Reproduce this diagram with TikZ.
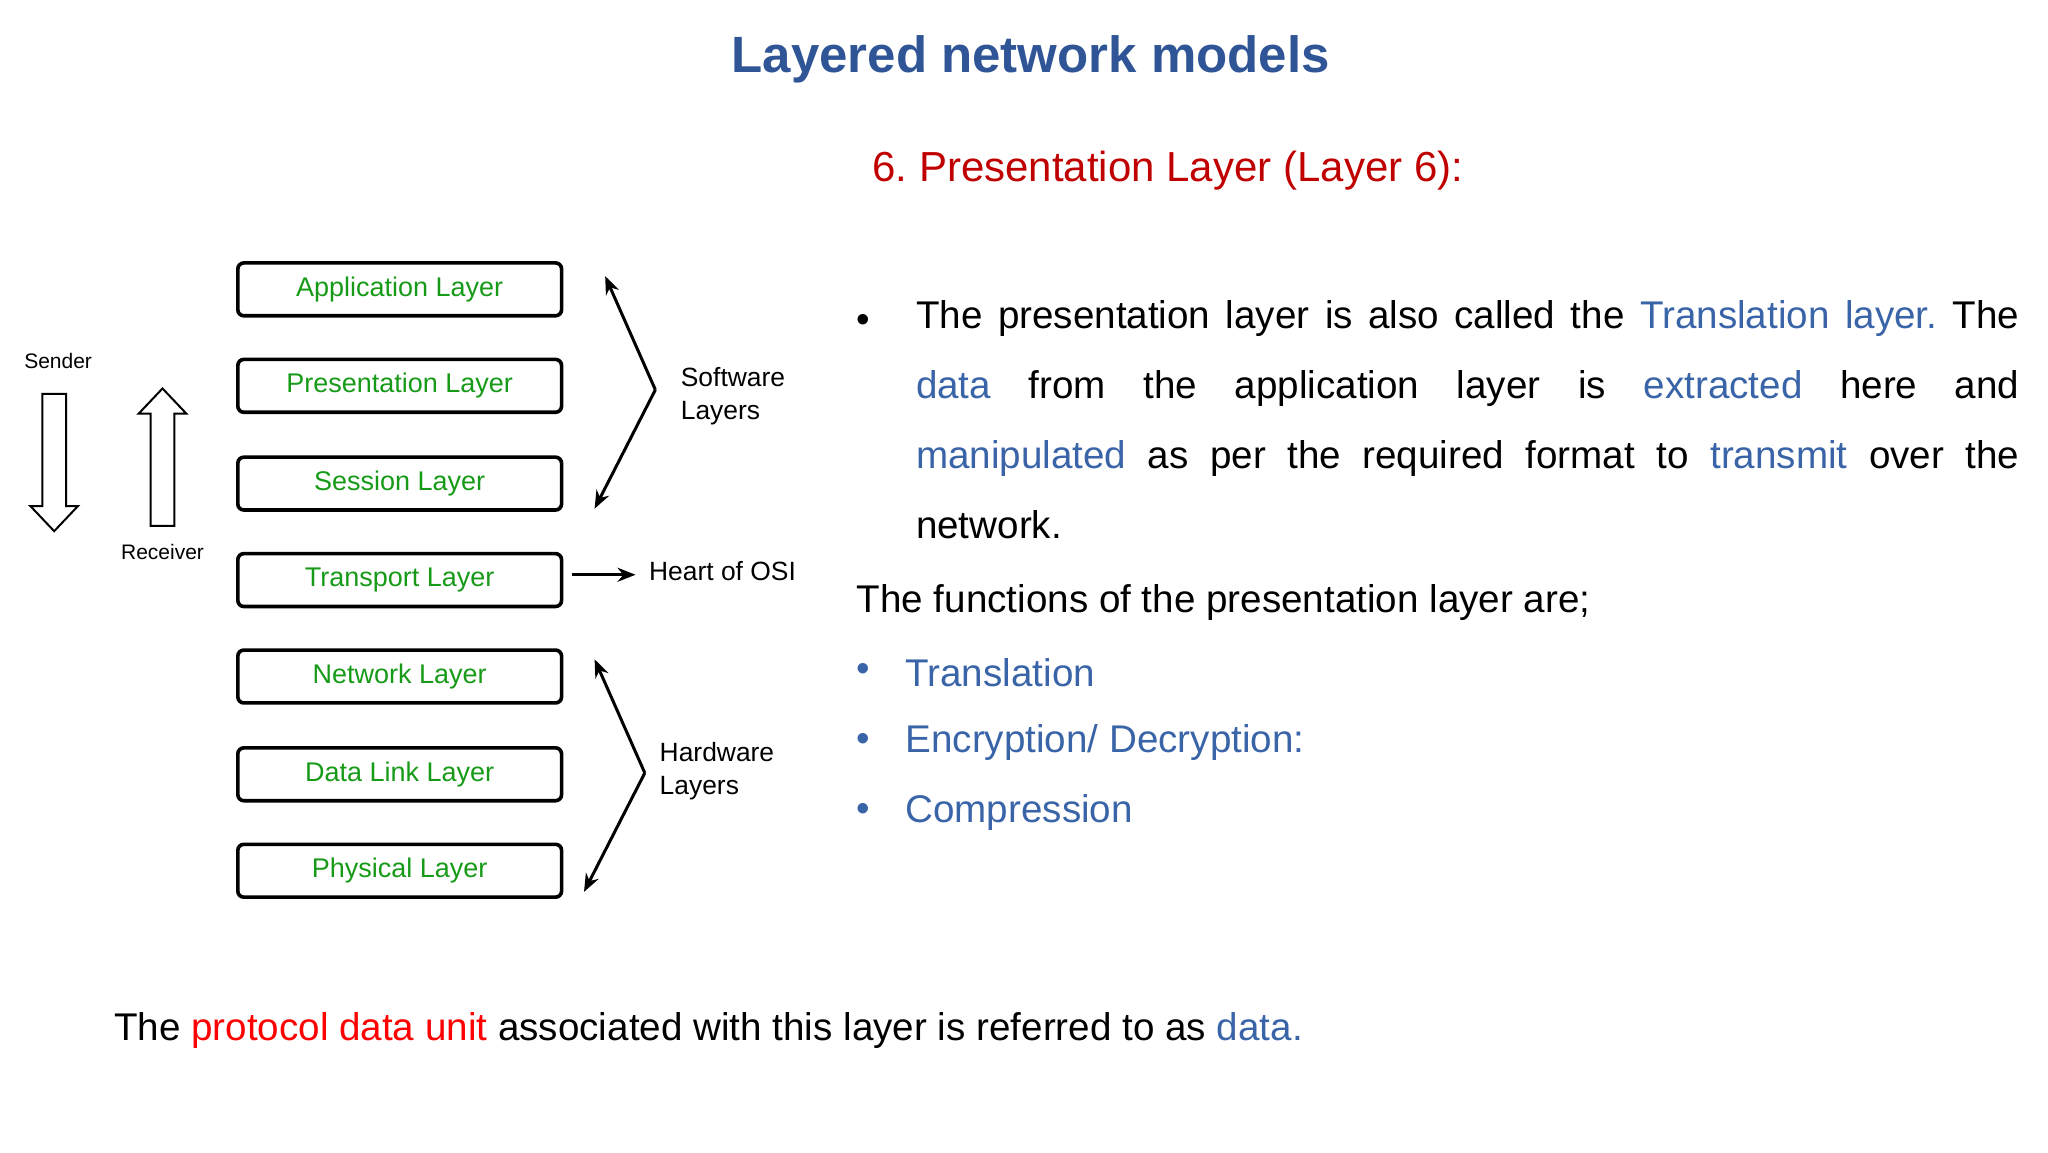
\documentclass[tikz,border=0pt]{standalone}
\usepackage{fontspec}
\setmainfont{Liberation Sans}
\usetikzlibrary{arrows.meta}
\definecolor{tblue}{HTML}{2F5597}
\definecolor{lblue}{HTML}{3A64A8}
\definecolor{dred}{HTML}{C00000}
\definecolor{lgreen}{HTML}{179A17}
\begin{document}
\begin{tikzpicture}[x=0.6606pt,y=-0.6606pt,
  layer/.style={draw=black,line width=1.8pt,rounded corners=3pt,minimum width=245*0.6606pt,minimum height=40*0.6606pt,inner sep=0pt,text=lgreen,font=\fontsize{13.5}{15}\selectfont},
  lbl/.style={font=\fontsize{13.2}{16.5}\selectfont,align=left,inner sep=0pt},
  small/.style={font=\fontsize{10.5}{13}\selectfont,inner sep=0pt},
  arr/.style={line width=1.5pt,-{Stealth[length=9pt,width=7pt]}},
  body/.style={font=\fontsize{19.3}{35}\selectfont,inner sep=0pt,anchor=west}]
\useasboundingbox (0,0) rectangle (1550,872);
\node[font=\fontsize{25.5}{30}\selectfont\bfseries,text=tblue] (title) at (780,45) {Layered network models};
\node[font=\fontsize{21}{24}\selectfont,text=dred,anchor=west,inner sep=0pt] (head) at (660,129) {6.\ Presentation Layer (Layer 6):};
% layers
\node[layer] (app) at (302.5,219) {Application Layer};
\node[layer] (pre) at (302.5,292) {Presentation Layer};
\node[layer] (ses) at (302.5,366) {Session Layer};
\node[layer] (tra) at (302.5,439) {Transport Layer};
\node[layer] (net) at (302.5,512) {Network Layer};
\node[layer] (dll) at (302.5,586) {Data Link Layer};
\node[layer] (phy) at (302.5,659) {Physical Layer};
% braces
\coordinate (s1) at (458,209); \coordinate (sv) at (496,295); \coordinate (s2) at (450,385);
\draw[arr] (sv) -- (s1); \draw[arr] (sv) -- (s2);
\coordinate (h1) at (450,499); \coordinate (hv) at (488,585); \coordinate (h2) at (442,675);
\draw[arr] (hv) -- (h1); \draw[arr] (hv) -- (h2);
\node[lbl,anchor=west] (sw) at (515,300) {Software\\Layers};
\node[lbl,anchor=west] (hw) at (499,584) {Hardware\\Layers};
\node[lbl,anchor=west] (heart) at (491,432) {Heart of OSI};
\coordinate (t0) at (433,435); \coordinate (t1) at (481,435);
\draw[arr] (t0) -- (t1);
% sender / receiver
\node[small] (snd) at (44,273) {Sender};
\node[small] (rcv) at (123,418) {Receiver};
\draw[line width=1pt] (32,298) -- (50,298) -- (50,383) -- (59,383) -- (41,402) -- (23,383) -- (32,383) -- cycle;
\draw[line width=1pt] (114,398) -- (132,398) -- (132,313) -- (141,313) -- (123,294) -- (105,313) -- (114,313) -- cycle;
% right text
\node[body] (b0) at (648,245) {•};
\node[body,anchor=north west,text width=835*0.6606pt,align=justify] (p1) at (693,227) {The presentation layer is also called the \textcolor{lblue}{Translation layer.}\ The\linebreak \textcolor{lblue}{data} from the application layer is \textcolor{lblue}{extracted} here and\linebreak \textcolor{lblue}{manipulated} as per the required format to \textcolor{lblue}{transmit} over the\linebreak network.};
\node[body] (fn) at (648,456) {The functions of the presentation layer are;};
\node[body,text=lblue] (bu1) at (648,509) {•};
\node[body,text=lblue] (tt1) at (685,509) {Translation};
\node[body,text=lblue] (bu2) at (648,562) {•};
\node[body,text=lblue] (tt2) at (685,562) {Encryption/ Decryption:};
\node[body,text=lblue] (bu3) at (648,615) {•};
\node[body,text=lblue] (tt3) at (685,615) {Compression};
\node[body] (bot) at (86,780) {The \textcolor{red}{protocol data unit} associated with this layer is referred to as \textcolor{lblue}{data.}};
\end{tikzpicture}
\end{document}
